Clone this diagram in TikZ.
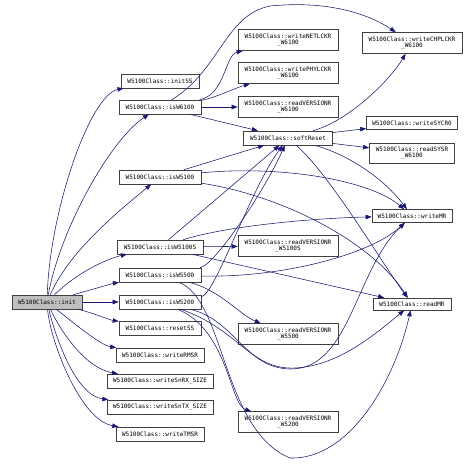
\documentclass[tikz,border=0pt]{standalone}
\usepackage{fontspec}
\setmonofont{DejaVu Sans Mono}
\usetikzlibrary{arrows.meta}
\definecolor{dxedge}{RGB}{25, 25, 112}
\definecolor{dxborder}{RGB}{64, 64, 64}
\definecolor{dxroot}{RGB}{191, 191, 191}
\tikzset{
  fnbox/.style = {
    rectangle, 
    draw=dxborder, 
    fill=white, 
    text=black, 
    font=\fontsize{6}{6.8}\selectfont\ttfamily, 
    align=center, 
    inner sep=0pt, 
    minimum height=14pt, 
    line width=0.6pt
  },
  fnwide/.style = {
    fnbox, 
    minimum width=100pt, 
    minimum height=21pt
  },
  rootbox/.style = {
    fnbox, 
    fill=dxroot
  },
  callarrow/.style = {
    -{Triangle[length=6pt, width=4.5pt]}, 
    line width=0.55pt, 
    draw=dxedge
  }
}

\begin{document}
\begin{tikzpicture}[x=1pt, y=-1pt]
  \useasboundingbox (0,0) rectangle (474,467);

  % Caller
  \node[rootbox, minimum width=70pt] (init) at (47,302) {W5100Class::init};

  % Column 1: called by init
  \node[fnbox, minimum width=78pt] (initSS) at (160,81) {W5100Class::initSS};
  \node[fnbox, minimum width=82pt] (isW6100) at (160,107) {W5100Class::isW6100};
  \node[fnbox, minimum width=82pt] (isW5100) at (160,177) {W5100Class::isW5100};
  \node[fnbox, minimum width=86pt] (isW5100S) at (160,247) {W5100Class::isW5100S};
  \node[fnbox, minimum width=82pt] (isW5500) at (160,275) {W5100Class::isW5500};
  \node[fnbox, minimum width=82pt] (isW5200) at (160,302) {W5100Class::isW5200};
  \node[fnbox, minimum width=82pt] (resetSS) at (160,328) {W5100Class::resetSS};
  \node[fnbox, minimum width=88pt] (writeRMSR) at (160,355) {W5100Class::writeRMSR};
  \node[fnbox, minimum width=106pt] (writeSnRX) at (160,381) {W5100Class::writeSnRX\_SIZE};
  \node[fnbox, minimum width=106pt] (writeSnTX) at (160,407) {W5100Class::writeSnTX\_SIZE};
  \node[fnbox, minimum width=88pt] (writeTMSR) at (160,434) {W5100Class::writeTMSR};

  % Column 2
  \node[fnwide] (writeNETLCKR) at (288,40) {W5100Class::writeNETLCKR\\\_W6100};
  \node[fnwide] (writePHYLCKR) at (288,73) {W5100Class::writePHYLCKR\\\_W6100};
  \node[fnwide] (readVerW6100) at (288,107) {W5100Class::readVERSIONR\\\_W6100};
  \node[fnbox, minimum width=89pt] (softReset) at (288,138) {W5100Class::softReset};
  \node[fnwide] (readVerW5100S) at (288,246) {W5100Class::readVERSIONR\\\_W5100S};
  \node[fnwide] (readVerW5500) at (288,334) {W5100Class::readVERSIONR\\\_W5500};
  \node[fnwide] (readVerW5200) at (288,422) {W5100Class::readVERSIONR\\\_W5200};

  % Column 3
  \node[fnwide] (writeCHPLCKR) at (412,43) {W5100Class::writeCHPLCKR\\\_W6100};
  \node[fnbox, minimum width=91pt, minimum height=13pt] (writeSYCR0) at (412,123) {W5100Class::writeSYCR0};
  \node[fnbox, minimum width=85pt, minimum height=20pt] (readSYSR) at (412,153) {W5100Class::readSYSR\\\_W6100};
  \node[fnbox, minimum width=80pt, minimum height=13pt] (writeMR) at (412,216) {W5100Class::writeMR};
  \node[fnbox, minimum width=78pt, minimum height=12pt] (readMR) at (412,304) {W5100Class::readMR};

  % Calls from init
  \draw[callarrow] (init) .. controls (50,210) and (90,95) .. (initSS);
  \draw[callarrow] (init) .. controls (60,230) and (110,140) .. (isW6100);
  \draw[callarrow] (init) .. controls (70,250) and (120,210) .. (isW5100);
  \draw[callarrow] (init) .. controls (80,270) and (110,258) .. (isW5100S);
  \draw[callarrow] (init) .. controls (90,290) and (115,283) .. (isW5500);
  \draw[callarrow] (init) -- (isW5200);
  \draw[callarrow] (init) .. controls (90,312) and (110,320) .. (resetSS);
  \draw[callarrow] (init) .. controls (70,320) and (100,345) .. (writeRMSR);
  \draw[callarrow] (init) .. controls (60,330) and (85,368) .. (writeSnRX);
  \draw[callarrow] (init) .. controls (55,335) and (75,395) .. (writeSnTX);
  \draw[callarrow] (init) .. controls (50,340) and (80,420) .. (writeTMSR);

  % Calls from isW6100
  \draw[callarrow] (isW6100) .. controls (225,95) and (225,55) .. (writeNETLCKR);
  \draw[callarrow] (isW6100) .. controls (215,98) and (235,88) .. (writePHYLCKR);
  \draw[callarrow] (isW6100) -- (readVerW6100);
  \draw[callarrow] (isW6100) -- (softReset);
  \draw[callarrow] (isW6100) .. controls (220,70) and (225,15) .. (270,6)
    .. controls (330,0) and (370,15) .. (writeCHPLCKR);

  % Calls from softReset
  \draw[callarrow] (softReset) .. controls (350,120) and (390,80) .. (writeCHPLCKR);
  \draw[callarrow] (softReset) -- (writeSYCR0);
  \draw[callarrow] (softReset) -- (readSYSR);
  \draw[callarrow] (softReset) .. controls (350,155) and (385,180) .. (writeMR);
  \draw[callarrow] (softReset) .. controls (330,175) and (380,260) .. (readMR);

  % Calls from isW5100
  \draw[callarrow] (isW5100) -- (softReset);
  \draw[callarrow] (isW5100) .. controls (280,165) and (370,180) .. (writeMR);
  \draw[callarrow] (isW5100) .. controls (280,195) and (370,240) .. (readMR);

  % Calls from isW5100S
  \draw[callarrow] (isW5100S) -- (softReset);
  \draw[callarrow] (isW5100S) .. controls (230,225) and (320,218) .. (writeMR);
  \draw[callarrow] (isW5100S) -- (readVerW5100S);
  \draw[callarrow] (isW5100S) -- (readMR);

  % Calls from isW5500
  \draw[callarrow] (isW5500) .. controls (215,265) and (265,190) .. (softReset);
  \draw[callarrow] (isW5500) .. controls (280,278) and (370,255) .. (writeMR);
  \draw[callarrow] (isW5500) .. controls (220,290) and (240,315) .. (readVerW5500);
  \draw[callarrow] (isW5500) .. controls (225,300) and (222,430) .. (290,458)
    .. controls (350,460) and (395,380) .. (readMR);

  % Calls from isW5200
  \draw[callarrow] (isW5200) .. controls (215,295) and (250,190) .. (softReset);
  \draw[callarrow] (isW5200) .. controls (228,330) and (230,405) .. (readVerW5200);
  \draw[callarrow] (isW5200) .. controls (240,330) and (250,370) .. (295,368)
    .. controls (340,366) and (380,330) .. (readMR);
  \draw[callarrow] (isW5200) .. controls (235,320) and (245,368) .. (290,369)
    .. controls (350,370) and (355,270) .. (writeMR);
\end{tikzpicture}
\end{document}
